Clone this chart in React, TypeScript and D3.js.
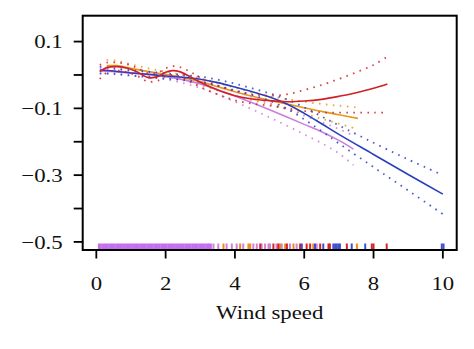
import React from "react";
import * as d3 from "d3";

// ---- data ----
const blueX = [0.1, 0.5, 1, 1.5, 2, 2.5, 3, 3.5, 4, 4.5, 5, 5.5, 6, 6.5, 7, 8, 9, 10];
const blueY = [0.015, 0.012, 0.006, 0.002, -0.003, -0.007, -0.013, -0.023, -0.036, -0.05, -0.066, -0.087, -0.115, -0.146, -0.178, -0.238, -0.298, -0.357];
const blueUp = [0.025, 0.02, 0.014, 0.01, 0.005, 0.0, -0.005, -0.014, -0.026, -0.04, -0.055, -0.073, -0.097, -0.124, -0.151, -0.203, -0.253, -0.3];
const blueLo = [0.005, 0.004, -0.002, -0.006, -0.011, -0.015, -0.021, -0.032, -0.046, -0.06, -0.077, -0.101, -0.133, -0.168, -0.205, -0.276, -0.346, -0.417];

const redX = [0.1, 0.3, 0.6, 0.9, 1.2, 1.5, 1.8, 2.0, 2.2, 2.4, 2.7, 3.0, 3.5, 4.0, 4.5, 5.0, 5.5, 6.0, 6.5, 7.0, 7.5, 8.0, 8.4];
const redY = [0.01, 0.022, 0.025, 0.02, 0.008, -0.008, -0.004, 0.008, 0.013, 0.01, -0.005, -0.022, -0.045, -0.062, -0.072, -0.077, -0.08, -0.078, -0.073, -0.064, -0.053, -0.04, -0.027];
const redUp = [0.03, 0.037, 0.037, 0.032, 0.02, 0.005, 0.008, 0.02, 0.026, 0.024, 0.01, -0.008, -0.032, -0.048, -0.058, -0.062, -0.058, -0.045, -0.03, -0.012, 0.008, 0.03, 0.055];
const redLo = [-0.012, 0.007, 0.013, 0.008, -0.004, -0.02, -0.016, -0.004, 0.0, -0.004, -0.02, -0.036, -0.058, -0.076, -0.086, -0.092, -0.1, -0.108, -0.112, -0.113, -0.113, -0.113, -0.113];

const orangeX = [0.3, 0.6, 1.0, 1.5, 2.0, 2.5, 3.0, 3.5, 4.0, 4.5, 5.0, 5.5, 6.0, 6.5, 7.0, 7.55];
const orangeY = [0.028, 0.028, 0.02, 0.01, 0.002, -0.008, -0.02, -0.035, -0.05, -0.064, -0.076, -0.087, -0.098, -0.109, -0.119, -0.13];
const orangeUp = [0.045, 0.042, 0.032, 0.02, 0.01, 0.0, -0.01, -0.024, -0.038, -0.052, -0.064, -0.072, -0.08, -0.087, -0.092, -0.097];
const orangeLo = [0.012, 0.014, 0.008, 0.0, -0.006, -0.016, -0.03, -0.046, -0.062, -0.076, -0.088, -0.102, -0.116, -0.131, -0.146, -0.163];

const purpleX = [0.1, 0.5, 1, 1.5, 2, 2.5, 3, 3.5, 4, 4.5, 5, 5.5, 6, 6.5, 7, 7.42];
const purpleY = [0.012, 0.01, 0.006, 0.001, -0.005, -0.014, -0.027, -0.044, -0.063, -0.083, -0.104, -0.126, -0.148, -0.17, -0.196, -0.222];
const purpleUp = [0.02, 0.018, 0.013, 0.008, 0.002, -0.006, -0.017, -0.032, -0.049, -0.066, -0.084, -0.103, -0.122, -0.141, -0.162, -0.182];
const purpleLo = [0.004, 0.002, -0.001, -0.006, -0.013, -0.024, -0.039, -0.058, -0.08, -0.103, -0.127, -0.152, -0.178, -0.204, -0.235, -0.27];

const rugPurpleBand = [0.1, 0.2, 0.3, 0.4, 0.5, 0.6, 0.7, 0.8, 0.9, 1.0, 1.1, 1.2, 1.3, 1.4, 1.5, 1.6, 1.7, 1.8, 1.9, 2.0, 2.1, 2.2, 2.3, 2.4, 2.5, 2.6, 2.7, 2.8, 2.9, 3.0, 3.1, 3.2, 3.28];
const rugPurple = [3.38, 3.52, 3.76, 3.91, 4.05, 4.24, 4.53, 4.63, 4.77, 4.87, 4.97, 5.01, 5.2, 5.35, 5.59, 5.78, 6.36];
const rugOrange = [3.67, 4.15, 4.39, 4.44, 5.3, 5.45, 5.69, 6.26, 7.52];
const rugRed = [4.73, 5.11, 5.25, 5.5, 5.88, 6.07, 6.17, 6.46, 6.7, 6.74, 7.23, 7.95, 8.0, 8.38];
const rugBlue = [5.93, 6.31, 6.55, 6.84, 6.89, 6.94, 6.99, 7.03, 7.37, 7.76, 9.97, 10.02];

const xTicks = [0, 2, 4, 6, 8, 10];
const yTicks = [0.1, 0, -0.1, -0.2, -0.3, -0.4, -0.5];
const yLabels = ["0.1", "", "\u22120.1", "", "\u22120.3", "", "\u22120.5"];
const xLabel = "Wind speed";

const BLUE = "#2a3fbf";
const RED = "#d21f26";
const ORANGE = "#e39a1c";
const PURPLE = "#c97fe0";

export default function App() {
  const left = 82.7, right = 456.7, top = 15.7, bottom = 250;
  const x = d3.scaleLinear().domain([-0.393, 10.4]).range([left, right]);
  const y = d3.scaleLinear().domain([0.1775, -0.5242]).range([top, bottom]);
  const mk = (xs: number[], ys: number[]) =>
    d3.line<number>().x((_, i) => x(xs[i])).y((v) => y(v)).curve(d3.curveCatmullRom.alpha(0.5))(ys) || "";

  const series = [
    { xs: orangeX, ys: orangeY, up: orangeUp, lo: orangeLo, c: ORANGE },
    { xs: purpleX, ys: purpleY, up: purpleUp, lo: purpleLo, c: PURPLE },
    { xs: blueX, ys: blueY, up: blueUp, lo: blueLo, c: BLUE },
    { xs: redX, ys: redY, up: redUp, lo: redLo, c: RED },
  ];
  const rugs = [
    { v: rugPurpleBand, c: "#c470ee", w: 3.8 },
    { v: rugPurple, c: "#d27fd8", w: 2 },
    { v: rugOrange, c: "#ef8a1a", w: 2 },
    { v: rugRed, c: "#d3232b", w: 2 },
    { v: rugBlue, c: "#3d4fd0", w: 2 },
  ];
  const font = "'Liberation Serif', 'Times New Roman', serif";

  return (
    <svg width={474} height={349} style={{ position: "absolute", left: 0, top: 0, background: "#fff" }}>
      <rect x={0} y={0} width={474} height={349} fill="#fff" />
      {rugs.map((r, k) => (
        <g key={k}>
          {r.v.map((v, i) => (
            <line key={i} x1={x(v)} x2={x(v)} y1={243.5} y2={250} stroke={r.c} strokeWidth={r.w} />
          ))}
        </g>
      ))}
      {series.map((s, k) => (
        <g key={k} fill="none">
          <path d={mk(s.xs, s.up)} stroke={s.c} strokeWidth={1.8} strokeDasharray="1.6 5.4" opacity={0.85} />
          <path d={mk(s.xs, s.lo)} stroke={s.c} strokeWidth={1.8} strokeDasharray="1.6 5.4" opacity={0.85} />
          <path d={mk(s.xs, s.ys)} stroke={s.c} strokeWidth={1.6} />
        </g>
      ))}
      <rect x={left} y={top} width={right - left} height={bottom - top} fill="none" stroke="#000" strokeWidth={2} />
      {yTicks.map((t, i) => (
        <g key={i}>
          <line x1={left - 9} x2={left} y1={y(t)} y2={y(t)} stroke="#000" strokeWidth={1.8} />
          {yLabels[i] && (
            <text
              transform={`translate(${62.7},${y(t) + 6.8}) scale(1.2,1)`}
              textAnchor="end"
              fontFamily={font}
              fontSize={19}
              fill="#111"
            >
              {yLabels[i]}
            </text>
          )}
        </g>
      ))}
      {xTicks.map((t, i) => (
        <g key={i}>
          <line x1={x(t)} x2={x(t)} y1={bottom} y2={bottom + 8.5} stroke="#000" strokeWidth={1.8} />
          <text
            transform={`translate(${x(t)},${290}) scale(1.2,1)`}
            textAnchor="middle"
            fontFamily={font}
            fontSize={19}
            fill="#111"
          >
            {t}
          </text>
        </g>
      ))}
      <text
        transform={`translate(${(left + right) / 2},${319}) scale(1.2,1)`}
        textAnchor="middle"
        fontFamily={font}
        fontSize={19}
        fill="#111"
      >
        {xLabel}
      </text>
    </svg>
  );
}
